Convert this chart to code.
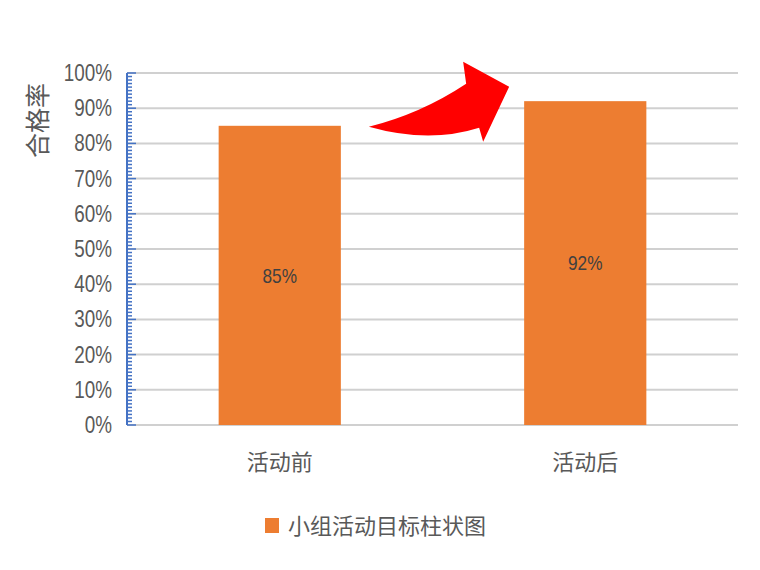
<!DOCTYPE html>
<html lang="zh">
  <head>
    <meta charset="UTF-8" />
    <title>小组活动目标柱状图</title>
    <script src="https://d3js.org/d3.v7.min.js"></script>
    <style>
      body { margin: 0; background: #fff; }
      text { font-family: "Liberation Sans", "Noto Sans CJK SC", sans-serif; fill: #595959; }
      .cjk { font-family: "Noto Sans CJK SC", sans-serif; }
    </style>
  </head>
  <body>
    <div id="chart"></div>
    <script>
      const categories = ["活动前", "活动后"];
      const values = [0.85, 0.92];
      const yTicks = [0, 0.1, 0.2, 0.3, 0.4, 0.5, 0.6, 0.7, 0.8, 0.9, 1.0];
      const seriesName = "小组活动目标柱状图";
      const yTitle = "合格率";

      const width = 760;
      const height = 570;
      const margin = { top: 73, right: 22, bottom: 145, left: 127 };
      const narrow = 0.82; // squeeze numbers like the original condensed font

      const svg = d3
        .select("#chart")
        .append("svg")
        .attr("width", width)
        .attr("height", height);

      const x = d3
        .scaleBand()
        .domain(categories)
        .range([margin.left, width - margin.right])
        .paddingInner(0.6)
        .paddingOuter(0.3);

      const y = d3
        .scaleLinear()
        .domain([0, 1])
        .range([height - margin.bottom, margin.top]);

      // gridlines
      svg
        .append("g")
        .selectAll("line")
        .data(yTicks)
        .enter()
        .append("line")
        .attr("x1", margin.left)
        .attr("x2", width - margin.right)
        .attr("y1", (d) => y(d))
        .attr("y2", (d) => y(d))
        .attr("stroke", "#d0d0d0")
        .attr("stroke-width", 2);

      // bars
      svg
        .selectAll("rect.bar")
        .data(values)
        .enter()
        .append("rect")
        .attr("class", "bar")
        .attr("x", (d, i) => x(categories[i]))
        .attr("y", (d) => y(d))
        .attr("width", x.bandwidth())
        .attr("height", (d) => y(0) - y(d))
        .attr("fill", "#ed7d31");

      // value labels
      svg
        .selectAll("g.val")
        .data(values)
        .enter()
        .append("g")
        .attr("class", "val")
        .attr(
          "transform",
          (d, i) =>
            `translate(${x(categories[i]) + x.bandwidth() / 2}, ${(y(d) + y(0)) / 2}) scale(${narrow}, 1)`
        )
        .append("text")
        .attr("dy", "0.35em")
        .attr("text-anchor", "middle")
        .attr("font-size", 21)
        .style("fill", "#404040")
        .text((d) => Math.round(d * 100) + "%");

      // y axis with minor ticks
      const yAxis = svg.append("g");
      yAxis
        .append("line")
        .attr("x1", margin.left)
        .attr("x2", margin.left)
        .attr("y1", y(0))
        .attr("y2", y(1))
        .attr("stroke", "#4472c4")
        .attr("stroke-width", 2);
      yAxis
        .selectAll("line.minor")
        .data(d3.range(0, 101).map((d) => d / 100))
        .enter()
        .append("line")
        .attr("class", "minor")
        .attr("x1", margin.left)
        .attr("x2", (d, i) => margin.left + (i % 10 === 0 ? 9 : 5))
        .attr("y1", (d) => y(d))
        .attr("y2", (d) => y(d))
        .attr("stroke", "#4472c4")
        .attr("stroke-width", 1.5);
      yAxis
        .selectAll("g.tick")
        .data(yTicks)
        .enter()
        .append("g")
        .attr("class", "tick")
        .attr("transform", (d) => `translate(${margin.left - 15}, ${y(d)}) scale(${narrow}, 1)`)
        .append("text")
        .attr("dy", "0.35em")
        .attr("text-anchor", "end")
        .attr("font-size", 23)
        .text((d) => Math.round(d * 100) + "%");

      // y title
      svg
        .append("text")
        .attr("class", "cjk")
        .attr("transform", `translate(47, ${y(0.865)}) rotate(-90)`)
        .attr("text-anchor", "middle")
        .attr("font-size", 25)
        .text(yTitle);

      // x labels
      svg
        .selectAll("text.xl")
        .data(categories)
        .enter()
        .append("text")
        .attr("class", "xl cjk")
        .attr("x", (d) => x(d) + x.bandwidth() / 2)
        .attr("y", y(0) + 45)
        .attr("text-anchor", "middle")
        .attr("font-size", 22)
        .text((d) => d);

      // legend
      const legend = svg.append("g").attr("transform", `translate(265, 518)`);
      legend
        .append("rect")
        .attr("width", 14)
        .attr("height", 15)
        .attr("fill", "#ed7d31");
      legend
        .append("text")
        .attr("class", "cjk")
        .attr("x", 23)
        .attr("y", 8)
        .attr("dy", "0.35em")
        .attr("font-size", 22)
        .text(seriesName);

      // red arrow from first bar top toward second bar
      const x0 = x(categories[0]) + x.bandwidth() + 28;
      const y0 = y(values[0]);
      const ax = x(categories[1]) - 15;
      const arrow = d3.path();
      arrow.moveTo(x0, y0 + 1);
      arrow.quadraticCurveTo(x0 + 52, y0 - 12, ax - 43, y0 - 42);
      arrow.lineTo(ax - 46, y0 - 64);
      arrow.lineTo(ax, y0 - 39);
      arrow.lineTo(ax - 26, y0 + 16);
      arrow.lineTo(ax - 30, y0 + 2);
      arrow.quadraticCurveTo(x0 + 60, y0 + 18, x0, y0 + 1);
      arrow.closePath();
      svg
        .append("path")
        .attr("d", arrow.toString())
        .attr("fill", "#ff0000");
    </script>
  </body>
</html>
